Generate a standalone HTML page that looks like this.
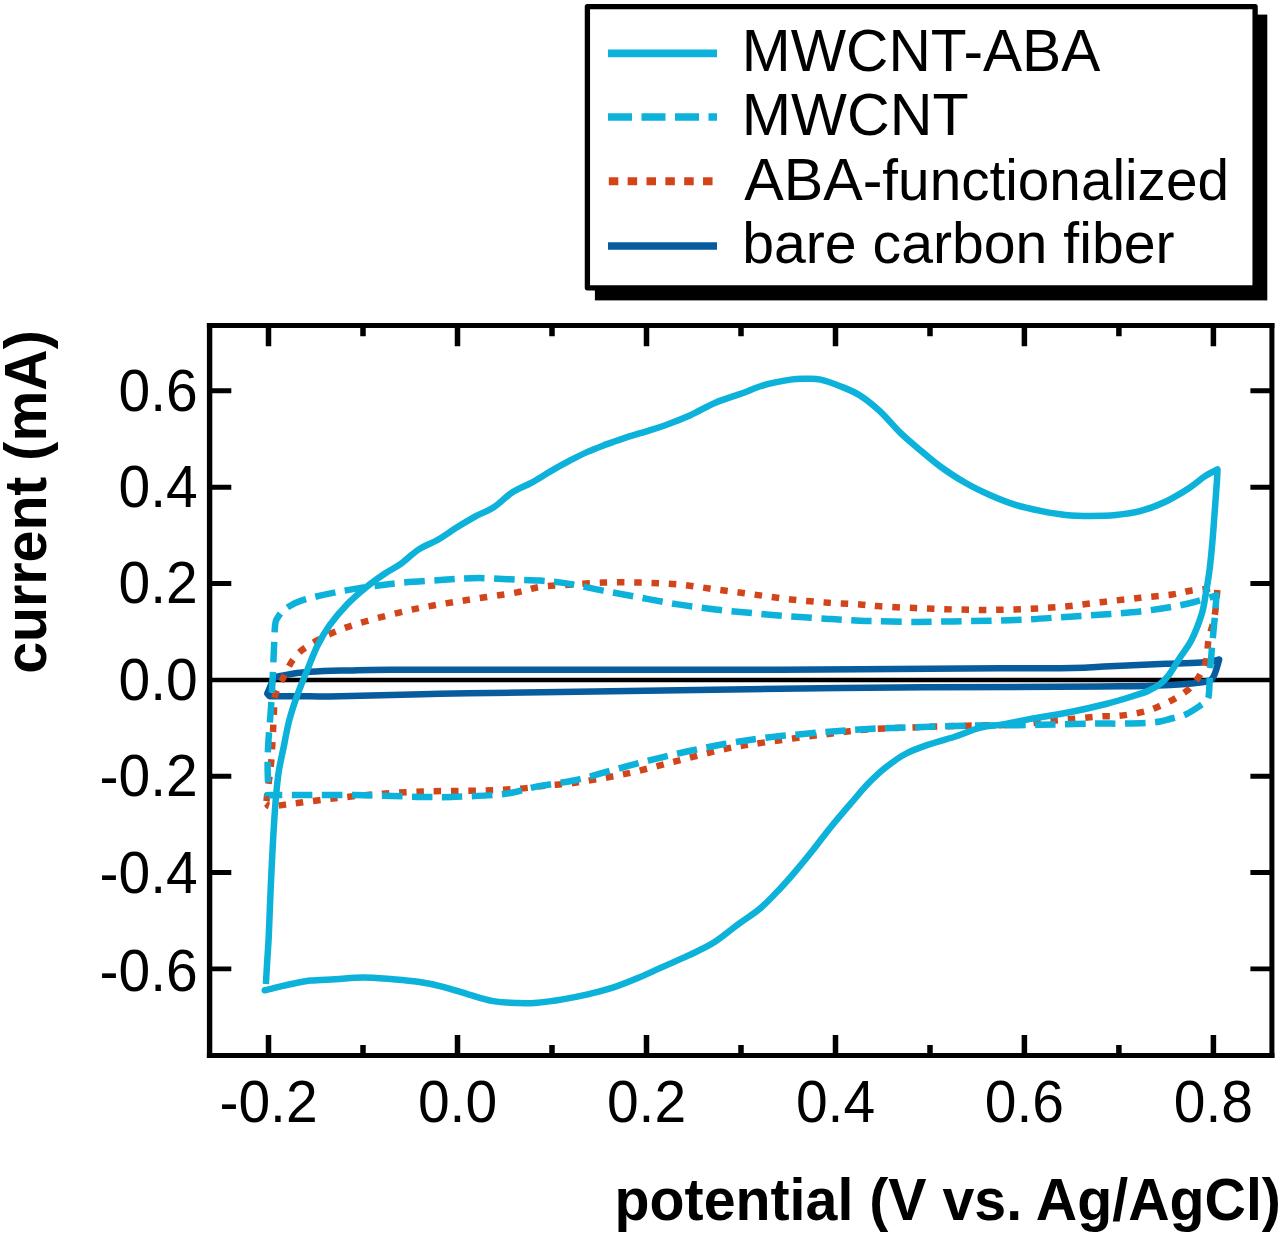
<!DOCTYPE html>
<html lang="en">
<head>
<meta charset="utf-8">
<title>Cyclic voltammograms</title>
<style>
html,body{margin:0;padding:0;background:#fff;}
body{width:1280px;height:1236px;overflow:hidden;}
svg{display:block;filter:blur(0.55px);}
text{font-family:"Liberation Sans",Arial,Helvetica,sans-serif;fill:#000;}
</style>
</head>
<body>
<svg width="1280" height="1236" viewBox="0 0 1280 1236">
<rect width="1280" height="1236" fill="#fff"/>
<!-- legend -->
<g>
<rect x="594.9" y="14.6" width="672.4" height="285.8" fill="#000"/>
<rect x="587.4" y="6.6" width="667.7" height="281.2" fill="#fff" stroke="#000" stroke-width="5.3" stroke-linejoin="round"/>
<path d="M608 53.4H717" stroke="#0cb2d9" stroke-width="7.6"/>
<path d="M608 117H717" stroke="#0cb2d9" stroke-width="7.5" stroke-dasharray="24 9.5"/>
<path d="M608.8 181.2H717" stroke="#d2451a" stroke-width="8" stroke-dasharray="9.5 9.35"/>
<path d="M608 246H717" stroke="#075c9e" stroke-width="7.6"/>
<text transform="translate(741.8 70.8) scale(1 1.020)" font-size="58.7px">MWCNT-ABA</text>
<text transform="translate(741.8 135.0) scale(1 1.010)" font-size="59.2px">MWCNT</text>
<text transform="translate(744.2 199.8) scale(1 1.010)" font-size="59.2px">ABA-<tspan font-size="56.7px">functionalized</tspan></text>
<text transform="translate(742.2 263.0) scale(1 1.000)" font-size="57.2px">bare carbon fiber</text>
</g>
<!-- zero line -->
<path d="M209.6 680.0H1271.9" stroke="#000" stroke-width="4.5"/>
<!-- curves -->
<path d="M267.3 693.6L274.2 677.3C278.1 676.6 289.1 674.0 297.3 673.0C305.5 672.0 314.8 671.4 323.6 671.0C332.4 670.6 338.9 670.6 350.0 670.4C361.1 670.2 355.4 669.8 390.4 669.7C425.4 669.6 494.9 669.7 559.8 669.7C624.7 669.7 706.6 669.9 780.0 669.7C853.4 669.5 951.3 668.6 1000.0 668.3C1048.7 668.0 1053.7 668.3 1072.0 668.0C1090.3 667.7 1094.3 667.0 1110.0 666.3C1125.7 665.6 1150.3 664.4 1166.0 663.8C1181.7 663.1 1195.5 663.0 1204.4 662.3C1213.3 661.6 1216.7 660.0 1219.2 659.5C1218.1 662.6 1215.6 674.5 1212.4 678.3C1209.2 682.1 1209.1 681.3 1200.0 682.5C1190.9 683.7 1174.4 684.9 1157.7 685.6C1141.0 686.3 1152.8 686.1 1099.8 686.5C1046.8 686.9 930.0 687.1 840.0 688.0C750.0 688.9 626.5 691.0 559.8 692.0C493.1 693.0 476.6 693.0 440.0 693.8C403.4 694.5 363.6 695.8 340.3 696.2C317.0 696.6 311.8 696.3 300.0 696.3C288.2 696.3 274.6 696.2 269.5 696.2Z" fill="none" stroke="#075c9e" stroke-width="6.5" stroke-linejoin="round"/>
<path d="M266.3 803.2C266.5 801.1 266.8 797.7 267.6 790.6C268.4 783.5 270.3 773.1 271.3 760.6C272.3 748.1 273.2 726.3 273.8 715.4C274.4 704.5 273.4 701.9 275.1 695.4C276.8 688.9 281.0 682.5 283.9 676.6C286.8 670.8 289.1 665.1 292.6 660.3C296.2 655.5 298.5 652.4 305.2 647.8C311.9 643.2 322.7 637.1 332.7 632.7C342.7 628.3 351.5 625.5 365.3 621.5C379.1 617.5 398.7 612.4 415.4 608.9C432.1 605.4 448.9 602.9 465.6 600.2C482.3 597.5 503.3 594.8 515.7 592.6C528.1 590.4 531.8 588.1 540.0 586.9C548.2 585.6 554.5 585.8 565.0 585.1C575.5 584.4 590.2 583.0 602.7 582.6C615.2 582.2 627.8 582.3 640.3 582.6C652.8 582.9 665.3 583.3 677.8 584.4C690.3 585.5 702.9 587.7 715.4 589.4C727.9 591.1 740.5 592.7 753.0 594.4C765.5 596.1 778.1 598.0 790.6 599.4C803.1 600.8 816.7 601.9 828.2 602.7C839.7 603.5 851.6 603.8 859.8 604.4C868.0 605.0 868.4 605.5 877.6 606.1C886.8 606.7 902.7 607.6 915.2 608.1C927.7 608.6 940.3 609.1 952.8 609.4C965.3 609.7 977.9 610.0 990.4 609.9C1002.9 609.8 1015.5 609.5 1028.0 608.9C1040.5 608.3 1053.1 607.6 1065.6 606.4C1078.1 605.2 1090.8 603.3 1103.2 601.9C1115.6 600.5 1128.5 599.0 1140.0 597.8C1151.5 596.6 1163.8 595.7 1172.4 594.5C1181.0 593.3 1184.3 591.6 1191.8 590.5C1199.3 589.4 1213.2 588.4 1217.5 588.0C1217.2 591.0 1216.7 600.1 1216.0 605.8C1215.3 611.5 1214.7 616.4 1213.4 622.0C1212.2 627.6 1209.6 633.3 1208.5 639.4C1207.4 645.5 1207.9 653.1 1206.6 658.8C1205.3 664.5 1203.5 668.5 1200.8 673.4C1198.0 678.3 1194.1 684.0 1190.1 688.0C1186.0 692.0 1181.3 694.8 1176.5 697.7C1171.7 700.6 1166.3 703.1 1161.0 705.4C1155.7 707.7 1151.8 709.8 1144.8 711.5C1137.8 713.2 1126.4 715.1 1118.9 715.9C1111.4 716.7 1110.5 715.7 1100.0 716.5C1089.5 717.3 1069.4 719.2 1055.7 720.5C1042.0 721.8 1032.6 723.6 1018.0 724.5C1003.4 725.4 984.7 725.2 968.0 725.7C951.3 726.2 934.5 726.6 917.8 727.2C901.1 727.8 884.0 728.2 867.7 729.5C851.4 730.8 837.2 732.8 819.8 735.0C802.4 737.2 778.9 740.3 763.2 742.6C747.5 744.9 740.2 745.7 725.6 748.8C711.0 751.9 692.1 757.2 675.4 761.4C658.7 765.6 642.0 770.3 625.3 773.9C608.6 777.5 587.8 780.8 575.2 782.7C562.6 784.6 559.3 784.1 549.8 785.1C540.3 786.1 529.7 787.9 518.2 788.8C506.7 789.7 495.2 790.2 480.6 790.6C466.0 791.0 447.2 790.8 430.5 791.3C413.8 791.8 397.1 792.5 380.4 793.8C363.7 795.0 346.2 797.0 330.3 798.8C314.4 800.6 295.1 803.3 285.1 804.6C275.1 805.9 273.2 806.6 270.1 806.4C267.0 806.2 266.9 803.7 266.3 803.2" fill="none" stroke="#d2451a" stroke-width="6.5" stroke-dasharray="7.5 9.8" stroke-dashoffset="-2.2" stroke-linejoin="round"/>
<path d="M268.5 796.0C268.4 790.9 267.6 774.9 267.6 765.6C267.6 756.3 267.9 750.5 268.5 740.0C269.1 729.5 270.4 717.4 271.3 702.9C272.2 688.4 273.2 665.8 273.8 652.8C274.4 639.8 274.5 631.1 275.1 625.2C275.7 619.4 275.9 620.4 277.6 617.7C279.3 615.0 280.9 611.8 285.1 608.9C289.3 606.0 293.5 603.1 302.7 600.2C311.9 597.3 325.7 594.1 340.3 591.4C354.9 588.7 373.7 585.8 390.4 583.9C407.1 582.0 425.9 581.1 440.5 580.1C455.1 579.1 465.6 578.2 478.1 578.1C490.6 578.0 505.4 579.2 515.7 579.6C526.0 580.0 531.8 580.0 540.0 580.6C548.2 581.2 554.5 581.4 565.0 583.1C575.5 584.8 590.2 588.2 602.7 590.6C615.2 593.0 627.8 595.3 640.3 597.6C652.8 599.9 665.3 602.4 677.8 604.4C690.3 606.4 702.9 607.9 715.4 609.4C727.9 610.9 740.5 612.0 753.0 613.2C765.5 614.4 778.1 615.5 790.6 616.4C803.1 617.3 816.7 618.2 828.2 618.9C839.7 619.6 851.6 620.3 859.8 620.7C868.0 621.1 868.4 621.0 877.6 621.2C886.8 621.4 902.7 621.9 915.2 621.9C927.7 621.9 940.3 621.6 952.8 621.4C965.3 621.2 977.9 621.0 990.4 620.7C1002.9 620.4 1015.5 620.0 1028.0 619.4C1040.5 618.8 1053.1 617.7 1065.6 616.9C1078.1 616.1 1090.8 615.4 1103.2 614.5C1115.6 613.6 1128.5 612.8 1140.0 611.5C1151.5 610.2 1163.2 608.3 1172.4 606.7C1181.6 605.1 1187.7 603.7 1195.0 601.8C1202.3 599.9 1212.9 596.5 1216.5 595.4C1216.2 598.7 1215.6 608.1 1215.0 615.0C1214.4 621.9 1213.7 628.5 1212.9 637.0C1212.2 645.5 1211.1 657.5 1210.5 666.0C1209.9 674.5 1209.6 682.8 1209.3 688.0C1209.0 693.2 1209.0 694.8 1208.5 697.0C1208.0 699.2 1207.0 700.3 1206.0 701.5C1205.0 702.7 1206.0 701.9 1202.7 704.0C1199.4 706.1 1191.7 711.7 1186.2 714.2C1180.7 716.7 1174.1 717.8 1169.7 719.0C1165.3 720.2 1164.2 720.8 1160.0 721.5C1155.8 722.2 1151.6 722.6 1144.8 723.0C1138.0 723.4 1126.4 723.6 1118.9 723.7C1111.4 723.8 1110.3 723.4 1099.8 723.5C1089.3 723.6 1069.3 724.2 1055.7 724.5C1042.1 724.8 1032.6 725.0 1018.0 725.2C1003.4 725.4 984.7 725.4 968.0 725.7C951.3 726.0 934.5 726.7 917.8 727.2C901.1 727.8 884.4 728.1 867.7 729.0C851.0 729.9 835.0 731.2 817.6 732.7C800.2 734.2 778.5 736.1 763.2 738.0C747.9 739.9 738.1 741.6 725.6 743.8C713.1 746.0 700.5 748.6 688.0 751.3C675.5 754.0 662.9 757.0 650.4 760.1C637.9 763.2 625.3 766.8 612.8 770.1C600.3 773.5 587.7 777.5 575.2 780.2C562.7 782.9 549.2 784.1 537.6 786.4C526.0 788.7 517.3 792.1 505.7 793.8C494.1 795.4 480.6 795.8 468.1 796.3C455.6 796.8 449.3 797.3 430.5 797.1C411.7 796.9 381.0 795.4 355.3 795.1C329.6 794.8 290.9 795.0 276.4 795.1C261.9 795.2 269.8 795.9 268.5 796.0" fill="none" stroke="#0cb2d9" stroke-width="6.5" stroke-dasharray="20.5 9.5" stroke-dashoffset="-13.7" stroke-linejoin="round"/>
<path d="M265.9 984.0C266.1 980.0 266.8 968.2 267.3 960.0C267.8 951.8 268.4 944.2 268.8 935.0C269.2 925.8 269.6 915.3 270.0 905.0C270.4 894.7 270.9 883.0 271.4 873.0C271.9 863.0 272.3 854.2 272.8 845.0C273.3 835.8 273.8 827.2 274.4 818.0C275.0 808.8 275.8 798.0 276.6 790.0C277.4 782.0 277.8 777.4 279.0 770.0C280.2 762.6 282.3 753.8 284.0 745.5C285.7 737.2 287.0 728.9 289.2 720.5C291.4 712.1 294.2 703.8 297.2 695.4C300.2 687.0 303.8 678.6 307.2 670.3C310.6 661.9 313.9 652.8 317.7 645.3C321.4 637.8 324.8 632.0 329.7 625.2C334.6 618.4 340.9 610.9 347.0 604.5C353.1 598.1 360.2 592.2 366.5 587.0C372.8 581.8 379.4 577.3 385.0 573.5C390.6 569.7 394.4 568.4 400.0 564.4C405.6 560.4 412.5 553.5 418.8 549.4C425.0 545.3 431.2 543.6 437.5 540.0C443.8 536.4 450.0 531.7 456.2 527.8C462.5 523.9 468.8 520.0 475.0 516.6C481.2 513.2 487.5 511.3 493.8 507.2C500.0 503.1 506.2 496.3 512.5 492.2C518.8 488.1 525.0 486.2 531.2 482.8C537.5 479.4 543.8 475.2 550.0 471.6C556.2 468.0 562.5 464.5 568.8 461.2C575.0 458.0 581.2 454.7 587.5 451.9C593.8 449.1 600.0 446.8 606.2 444.4C612.5 442.0 619.3 439.7 625.0 437.8C630.7 435.9 633.6 435.3 640.3 433.2C647.0 431.1 656.9 428.2 665.3 425.2C673.6 422.2 682.0 418.9 690.4 415.2C698.8 411.4 707.0 406.2 715.4 402.7C723.8 399.1 732.1 396.9 740.5 393.9C748.9 390.9 757.2 387.0 765.6 384.6C774.0 382.2 783.9 380.6 790.6 379.6C797.3 378.6 800.7 378.8 805.7 378.8C810.7 378.8 814.9 378.3 820.7 379.6C826.6 380.9 834.2 383.8 840.8 386.4C847.3 389.0 853.5 391.3 860.0 395.5C866.5 399.7 873.4 405.2 880.1 411.4C886.8 417.6 893.5 426.2 900.2 432.7C906.9 439.2 913.5 444.6 920.2 450.2C926.9 455.8 932.8 461.1 940.3 466.5C947.8 471.9 956.9 478.0 965.3 482.8C973.6 487.6 982.0 491.6 990.4 495.3C998.8 499.0 1007.0 502.3 1015.4 504.9C1023.8 507.5 1032.1 509.2 1040.5 510.9C1048.9 512.6 1057.2 514.1 1065.6 514.9C1073.9 515.7 1082.2 515.9 1090.6 515.9C1098.9 515.9 1107.5 515.8 1115.7 515.0C1123.9 514.2 1131.9 513.3 1140.0 511.2C1148.1 509.1 1156.2 506.1 1164.3 502.3C1172.4 498.5 1181.8 492.8 1188.5 488.5C1195.2 484.2 1199.9 479.6 1204.7 476.4C1209.5 473.2 1215.4 470.6 1217.5 469.5C1217.4 471.2 1217.4 474.1 1217.0 480.0C1216.6 485.9 1215.9 495.2 1215.2 504.7C1214.5 514.2 1213.7 526.3 1212.8 537.1C1211.9 547.9 1210.8 560.0 1209.6 569.4C1208.4 578.8 1207.1 586.1 1205.8 593.7C1204.5 601.3 1203.9 607.1 1201.5 614.8C1199.1 622.5 1195.1 632.9 1191.5 640.0C1187.9 647.1 1183.8 651.6 1180.0 657.5C1176.2 663.4 1171.8 671.1 1168.5 675.5C1165.2 679.9 1163.4 681.4 1160.0 684.0C1156.6 686.6 1152.7 688.9 1148.0 691.0C1143.3 693.1 1138.8 694.3 1131.8 696.5C1124.8 698.7 1116.5 701.3 1105.9 704.0C1095.3 706.7 1080.8 710.0 1068.2 712.5C1055.7 715.0 1041.0 717.0 1030.6 718.9C1020.2 720.8 1014.0 722.5 1005.6 724.0C997.2 725.5 988.9 725.6 980.5 727.7C972.1 729.8 963.8 733.8 955.4 736.5C947.0 739.2 938.8 741.1 930.4 744.0C922.0 746.9 912.8 750.0 905.3 754.0C897.8 758.0 891.6 762.8 885.3 767.8C879.0 772.8 873.6 778.0 867.7 784.1C861.9 790.2 856.5 796.9 850.2 804.2C843.9 811.5 836.4 820.3 830.1 828.0C823.8 835.7 818.5 843.2 812.6 850.5C806.8 857.8 800.3 865.6 795.0 871.8C789.7 878.0 786.4 881.9 780.7 887.9C775.0 893.9 767.8 901.9 760.7 908.0C753.6 914.1 746.1 918.4 738.1 924.3C730.1 930.1 721.4 937.9 713.0 943.1C704.6 948.3 696.4 951.6 688.0 955.6C679.6 959.6 671.3 963.1 662.9 966.9C654.5 970.6 646.1 974.6 637.8 978.1C629.4 981.6 621.1 985.0 612.8 987.7C604.4 990.4 596.1 992.5 587.7 994.4C579.4 996.3 571.1 998.0 562.7 999.4C554.4 1000.8 545.0 1002.1 537.6 1002.7C530.2 1003.3 525.6 1003.4 518.2 1003.1C510.8 1002.8 501.6 1002.6 493.2 1001.1C484.8 999.6 476.5 996.7 468.1 994.3C459.7 991.9 451.4 988.9 443.0 986.8C434.6 984.7 426.4 983.0 418.0 981.8C409.6 980.5 402.1 980.0 392.9 979.3C383.7 978.6 372.4 977.5 362.8 977.5C353.2 977.5 344.1 978.8 335.3 979.3C326.6 979.8 318.4 979.6 310.3 980.6C302.2 981.6 293.3 983.7 286.9 985.0C280.5 986.3 275.7 987.7 272.0 988.6C268.3 989.5 266.0 990.0 264.8 990.3" fill="none" stroke="#0cb2d9" stroke-width="6.5" stroke-linejoin="round"/>
<circle cx="264.8" cy="990.3" r="3.25" fill="#0cb2d9"/>
<!-- frame + ticks -->
<g fill="none" stroke="#000">
<path stroke-width="5" d="M206.9 325.5H1274.4M206.9 1055.6H1274.4"/><path stroke-width="5.4" d="M209.6 323.0V1058.1"/><path stroke-width="5" d="M1271.9 323.0V1058.1"/>
<path stroke-width="5.5" d="M268.5 325.5v20.7M268.5 1055.6v-20.7M363.0 325.5v10.7M363.0 1055.6v-10.7M457.5 325.5v20.7M457.5 1055.6v-20.7M552.0 325.5v10.7M552.0 1055.6v-10.7M646.5 325.5v20.7M646.5 1055.6v-20.7M741.0 325.5v10.7M741.0 1055.6v-10.7M835.5 325.5v20.7M835.5 1055.6v-20.7M930.0 325.5v10.7M930.0 1055.6v-10.7M1024.4 325.5v20.7M1024.4 1055.6v-20.7M1118.9 325.5v10.7M1118.9 1055.6v-10.7M1213.4 325.5v20.7M1213.4 1055.6v-20.7"/>
<path stroke-width="4.9" d="M209.6 968.9h21.7M1271.9 968.9h-21.5M209.6 872.5h21.7M1271.9 872.5h-21.5M209.6 776.2h21.7M1271.9 776.2h-21.5M209.6 583.5h21.7M1271.9 583.5h-21.5M209.6 487.2h21.7M1271.9 487.2h-21.5M209.6 390.8h21.7M1271.9 390.8h-21.5"/>
</g>
<!-- tick labels -->
<text transform="translate(268.5 1122.0) scale(1 1.037)" font-size="57px" text-anchor="middle">-0.2</text>
<text transform="translate(457.5 1122.0) scale(1 1.037)" font-size="57px" text-anchor="middle">0.0</text>
<text transform="translate(646.5 1122.0) scale(1 1.037)" font-size="57px" text-anchor="middle">0.2</text>
<text transform="translate(835.5 1122.0) scale(1 1.037)" font-size="57px" text-anchor="middle">0.4</text>
<text transform="translate(1024.4 1122.0) scale(1 1.037)" font-size="57px" text-anchor="middle">0.6</text>
<text transform="translate(1213.4 1122.0) scale(1 1.037)" font-size="57px" text-anchor="middle">0.8</text>
<text transform="translate(197.7 410.7) scale(1 1.037)" font-size="57px" text-anchor="end">0.6</text>
<text transform="translate(197.7 507.4) scale(1 1.037)" font-size="57px" text-anchor="end">0.4</text>
<text transform="translate(197.7 603.1) scale(1 1.037)" font-size="57px" text-anchor="end">0.2</text>
<text transform="translate(197.7 700.2) scale(1 1.037)" font-size="57px" text-anchor="end">0.0</text>
<text transform="translate(197.7 795.6) scale(1 1.037)" font-size="57px" text-anchor="end">-0.2</text>
<text transform="translate(197.7 892.5) scale(1 1.037)" font-size="57px" text-anchor="end">-0.4</text>
<text transform="translate(197.7 991.2) scale(1 1.037)" font-size="57px" text-anchor="end">-0.6</text>
<!-- axis titles -->
<text transform="translate(1280.9 1220.0) scale(1 1.030)" font-size="57.3px" text-anchor="end" font-weight="bold">potential (V vs. Ag/AgCl)</text>
<text transform="translate(46 673.8) rotate(-90) scale(1 1.03)" font-size="57.25px" font-weight="bold">current (mA)</text>
</svg>
</body>
</html>
